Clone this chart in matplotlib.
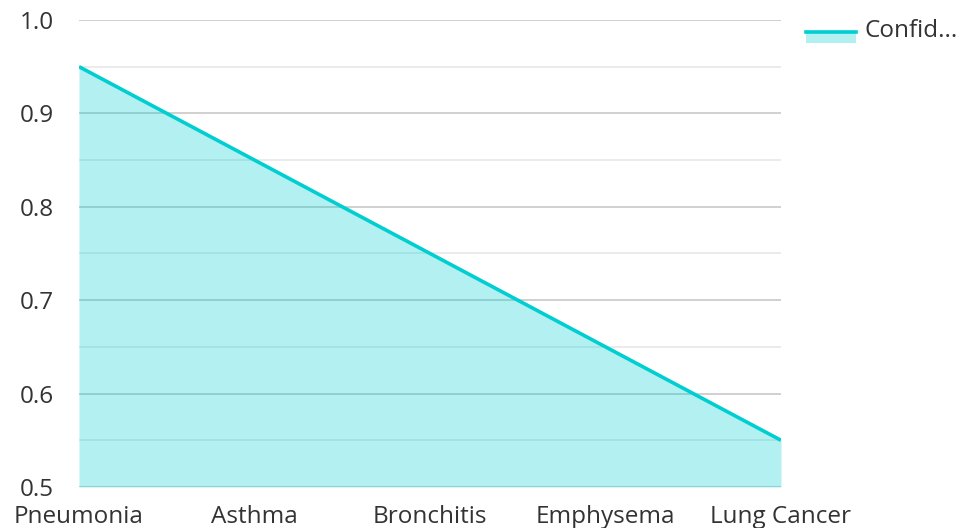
import numpy as np
import matplotlib.pyplot as plt
from matplotlib.patches import Rectangle
from matplotlib.lines import Line2D

diseases = ["Pneumonia", "Asthma", "Bronchitis", "Emphysema", "Lung Cancer"]
confidence = [0.95, 0.85, 0.75, 0.65, 0.55]
series_name = "Confid..."

teal = "#00CED1"
plt.rcParams['font.family'] = ['Open Sans', 'DejaVu Sans']

fig = plt.figure(figsize=(9.63, 5.28), dpi=100)
ax = fig.add_axes([0.082, 0.0777, 0.729, 0.8845])

x = np.arange(len(diseases))
ax.fill_between(x, confidence, 0.5, color=teal, alpha=0.3, lw=0, zorder=2)
ax.plot(x, confidence, color=teal, lw=2.6, zorder=3, solid_capstyle='butt')

ax.set_xlim(0, len(diseases) - 1)
ax.set_ylim(0.5, 1.0)
ax.set_yticks(np.arange(0.5, 1.01, 0.1))
ax.set_yticks(np.arange(0.55, 1.0, 0.1), minor=True)
ax.set_yticklabels(["%.1f" % v for v in np.arange(0.5, 1.01, 0.1)])
ax.set_xticks(x)
ax.set_xticklabels(diseases)

ax.grid(axis='y', which='major', color='#c8c8c8', lw=1.2, zorder=1)
ax.grid(axis='y', which='minor', color='#e8e8e8', lw=1.2, zorder=1)
ax.set_axisbelow(True)
for s in ax.spines.values():
    s.set_visible(False)
ax.tick_params(axis='both', which='both', length=0, labelsize=17.5, colors='#333333')
ax.tick_params(axis='y', pad=18)
ax.tick_params(axis='x', pad=13)

# legend swatch drawn by hand: fill block with the line on its top edge
fig.patches.append(Rectangle((806/963, 1-43/528), 50/963, 11/528,
                             transform=fig.transFigure, color=teal, alpha=0.3, lw=0))
fig.lines.append(Line2D([806/963, 856/963], [1-32/528, 1-32/528],
                        transform=fig.transFigure, color=teal, lw=2.6))
fig.text(865/963, 1-31/528, series_name, fontsize=17.5, color='#333333', va='center', ha='left')

fig.savefig("out.png", dpi=100)
